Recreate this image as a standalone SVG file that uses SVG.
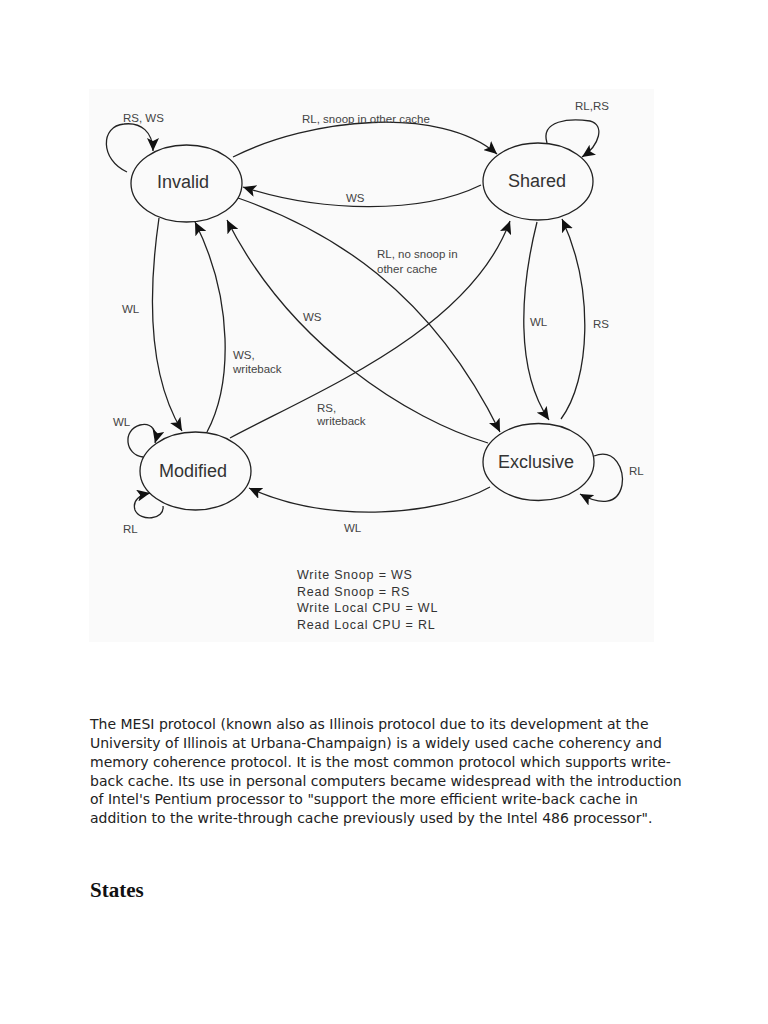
<svg xmlns="http://www.w3.org/2000/svg" width="768" height="1024" viewBox="0 0 768 1024">
<style>
.node ellipse{fill:none;stroke:#222;stroke-width:1.3}
.node text{font-family:"Liberation Sans",Arial,sans-serif;font-size:18px;fill:#333;text-anchor:middle}
.lbl{font-family:"Liberation Sans",Arial,sans-serif;font-size:11.5px;fill:#444}
.legend{font-family:"Liberation Sans",Arial,sans-serif;font-size:12.5px;fill:#333;letter-spacing:0.8px}
#edges path{fill:none;stroke:#222;stroke-width:1.3;marker-end:url(#ah)}
.para{font-family:"DejaVu Sans",sans-serif;font-size:14px;fill:#222}
.h{font-family:"Liberation Serif","Times New Roman",serif;font-size:21px;font-weight:bold;fill:#111}
</style>
<defs>
<marker id="ah" markerUnits="userSpaceOnUse" markerWidth="14" markerHeight="12" refX="13" refY="6" orient="auto">
<path d="M0,0 L13,6 L0,12 L3,6 z" fill="#111"/>
</marker>
</defs>
<rect width="768" height="1024" fill="#fff"/>
<rect x="89" y="89" width="565" height="553" fill="#fafafa"/>

<g id="edges">
<path id="e-inv-self" d="M127,172 C100,160 100,126 124,124 C141,122 153,132 153,151"/>
<path id="e-inv-sh" d="M233,157 C310,118 440,105 497,154"/>
<path id="e-sh-inv" d="M481,185 C420,215 320,212 243,187"/>
<path id="e-sh-self" d="M547,143 C540,120 570,118 590,121 C605,125 600,145 582,157"/>
<path id="e-inv-ex" d="M238,198 C330,230 430,290 500,432"/>
<path id="e-ex-inv" d="M488,443 C410,420 290,345 227,220"/>
<path id="e-mod-inv" d="M207,432 C232,385 234,300 195,222"/>
<path id="e-inv-mod" d="M159,218 C150,280 145,370 182,431"/>
<path id="e-mod-self-wl" d="M143,457 C125,455 122,430 140,425 C152,422 158,432 155,443"/>
<path id="e-mod-self-rl" d="M163,506 C165,520 140,522 135,510 C132,500 140,495 150,493"/>
<path id="e-mod-sh" d="M230,438 C320,390 470,330 510,221"/>
<path id="e-ex-mod" d="M490,487 C440,515 330,525 249,488"/>
<path id="e-sh-ex" d="M537,222 C520,290 515,370 549,420"/>
<path id="e-ex-sh" d="M561,419 C590,380 595,290 562,219"/>
<path id="e-ex-self" d="M594,456 C615,448 625,470 622,485 C618,505 600,505 580,494"/>
</g>

<g id="node-invalid" class="node">
<ellipse cx="186.5" cy="183.5" rx="55.5" ry="38.5"/>
<text x="183" y="188">Invalid</text>
</g>
<g id="node-shared" class="node">
<ellipse cx="538" cy="181.5" rx="55" ry="38.5"/>
<text x="537" y="187">Shared</text>
</g>
<g id="node-modified" class="node">
<ellipse cx="195.5" cy="471" rx="55.5" ry="39"/>
<text x="193" y="477">Modified</text>
</g>
<g id="node-exclusive" class="node">
<ellipse cx="538.5" cy="462" rx="55.5" ry="38.5"/>
<text x="536" y="468">Exclusive</text>
</g>

<g id="labels">
<text class="lbl" x="123" y="122">RS, WS</text>
<text class="lbl" x="302" y="123">RL, snoop in other cache</text>
<text class="lbl" x="346" y="202">WS</text>
<text class="lbl" x="575" y="110">RL,RS</text>
<text class="lbl" x="377" y="258">RL, no snoop in</text>
<text class="lbl" x="377" y="273">other cache</text>
<text class="lbl" x="122" y="313">WL</text>
<text class="lbl" x="303" y="321">WS</text>
<text class="lbl" x="233" y="359">WS,</text>
<text class="lbl" x="233" y="373">writeback</text>
<text class="lbl" x="317" y="412">RS,</text>
<text class="lbl" x="317" y="425">writeback</text>
<text class="lbl" x="113" y="426">WL</text>
<text class="lbl" x="123" y="533">RL</text>
<text class="lbl" x="344" y="532">WL</text>
<text class="lbl" x="530" y="326">WL</text>
<text class="lbl" x="593" y="328">RS</text>
<text class="lbl" x="629" y="475">RL</text>
</g>

<g id="legend">
<text class="legend" x="297" y="579">Write Snoop = WS</text>
<text class="legend" x="297" y="596">Read Snoop = RS</text>
<text class="legend" x="297" y="612">Write Local CPU = WL</text>
<text class="legend" x="297" y="629">Read Local CPU = RL</text>
</g>

<g id="text">
<text class="para" x="90" y="729">The MESI protocol (known also as Illinois protocol due to its development at the</text>
<text class="para" x="90" y="748">University of Illinois at Urbana-Champaign) is a widely used cache coherency and</text>
<text class="para" x="90" y="767">memory coherence protocol. It is the most common protocol which supports write-</text>
<text class="para" x="90" y="786">back cache. Its use in personal computers became widespread with the introduction</text>
<text class="para" x="90" y="804">of Intel's Pentium processor to "support the more efficient write-back cache in</text>
<text class="para" x="90" y="823">addition to the write-through cache previously used by the Intel 486 processor".</text>
<text class="h" x="90" y="897">States</text>
</g>
</svg>
